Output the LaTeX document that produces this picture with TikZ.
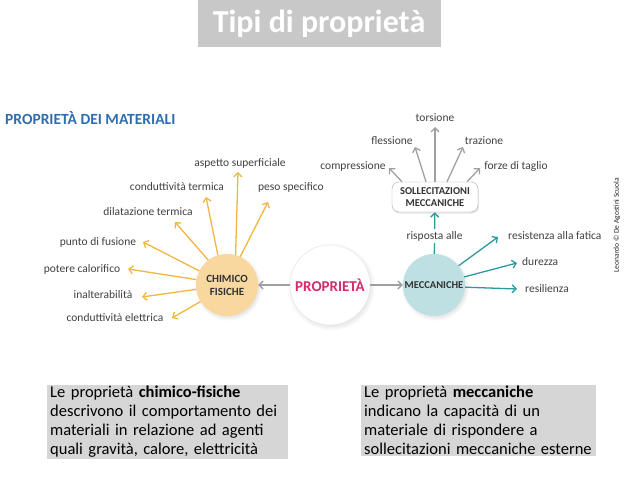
\documentclass[tikz,border=0pt]{standalone}
\usepackage{fontspec}
\setmainfont{Carlito}
\usepackage{xcolor}
\usetikzlibrary{arrows.meta, shadows, calc}

\definecolor{titlegray}{HTML}{C8C8C8}
\definecolor{boxgray}{HTML}{D6D6D6}
\definecolor{headblue}{HTML}{2F6EAE}
\definecolor{chimfill}{HTML}{F9D8A0}
\definecolor{chimline}{HTML}{F0B642}
\definecolor{meccfill}{HTML}{BEE0E2}
\definecolor{meccline}{HTML}{2A9A9E}
\definecolor{propred}{HTML}{D42A6E}
\definecolor{arrgray}{HTML}{A0A0A0}

\begin{document}
\begin{tikzpicture}[x=1pt, y=-1pt,
  lab/.style={font=\fontsize{11.5}{13}\selectfont, text=black!75, inner sep=1pt},
  hub/.style={circle, minimum size=62pt, inner sep=0pt, align=center,
              font=\fontsize{10.5}{12}\selectfont\bfseries, text=black!80,
              circular drop shadow={opacity=0.2, shadow xshift=1pt, shadow yshift=-1.5pt}},
  oarr/.style={-{Straight Barb[length=4pt, width=8pt]}, chimline, line width=1.3pt},
  tarr/.style={-{Straight Barb[length=4pt, width=8pt]}, meccline, line width=1.3pt},
  garr/.style={-{Straight Barb[length=4pt, width=8pt]}, arrgray, line width=1.3pt},
  note/.style={fill=boxgray, anchor=north west, align=left, inner xsep=3pt, inner ysep=1pt,
               font=\fontsize{16.5}{19}\selectfont, text=black},
]
\useasboundingbox (0,0) rectangle (638,479);

% ---- Title -----------------------------------------------------------------
\node[fill=titlegray, minimum width=243pt, minimum height=47pt, text=white,
      font=\fontsize{32}{34}\selectfont\bfseries] (title) at (319, 23.5) {Tipi di proprietà};

% ---- Heading ---------------------------------------------------------------
\node[anchor=west, text=headblue, font=\fontsize{15.5}{17}\selectfont\bfseries, inner sep=0pt]
  (head) at (5, 118) {PROPRIETÀ DEI MATERIALI};

% ---- Hubs ------------------------------------------------------------------
\node[hub, fill=white, draw=black!10, minimum size=80pt, text=propred,
      font=\fontsize{15}{17}\selectfont\bfseries] (prop) at (330, 285) {PROPRIETÀ};
\node[hub, fill=chimfill, font=\fontsize{11}{13}\selectfont\bfseries] (chim) at (227, 285) {CHIMICO\\FISICHE};
\node[hub, fill=meccfill] (mecc) at (434, 285) {MECCANICHE};
\node[draw=black!35, fill=white, rounded corners=7pt, minimum width=86pt, minimum height=30pt,
      align=center, font=\fontsize{10.5}{12}\selectfont\bfseries, text=black!80, inner sep=1pt,
      drop shadow={opacity=0.2, shadow xshift=1pt, shadow yshift=-1.5pt}]
  (soll) at (435, 197) {SOLLECITAZIONI\\MECCANICHE};

\draw[garr] (prop) -- (chim);
\draw[garr] (prop) -- (mecc);

% ---- Chimico-fisiche labels ------------------------------------------------
\node[lab] (asp) at (240, 163) {aspetto superficiale};
\node[lab] (cte) at (177, 187) {conduttività termica};
\node[lab] (pes) at (291, 187) {peso specifico};
\node[lab] (dil) at (148, 212) {dilatazione termica};
\node[lab] (fus) at (98, 242) {punto di fusione};
\node[lab] (cal) at (82, 269) {potere calorifico};
\node[lab] (ina) at (103, 295) {inalterabilità};
\node[lab] (cel) at (115, 318) {conduttività elettrica};

\draw[oarr] (chim.74) -- ($(asp)+(-2,9)$);
\draw[oarr] (chim.107) -- ($(cte)+(29,10)$);
\draw[oarr] (chim.65) -- ($(pes)+(-23,15)$);
\draw[oarr] (chim.127) -- ($(dil)+(27,10)$);
\draw[oarr] (chim.153) -- ($(fus)+(45,0)$);
\draw[oarr] (chim.170) -- ($(cal)+(46,0)$);
\draw[oarr] (chim.188) -- ($(ina)+(39,2)$);
\draw[oarr] (chim.212) -- ($(cel)+(57,0)$);

% ---- Sollecitazioni labels -------------------------------------------------
\node[lab] (tor) at (435, 118) {torsione};
\node[lab] (fle) at (392, 141) {flessione};
\node[lab] (tra) at (484, 141) {trazione};
\node[lab] (com) at (353, 166) {compressione};
\node[lab] (tag) at (516, 166) {forze di taglio};

\draw[garr] (soll.north) -- ($(tor)+(0,9)$);
\draw[garr] ($(soll.north)+(-9,0)$) -- ($(fle)+(23,6)$);
\draw[garr] ($(soll.north)+(12,0)$) -- ($(tra)+(-21,6)$);
\draw[garr] ($(soll.north)+(-33,0)$) -- ($(com)+(36,2)$);
\draw[garr] ($(soll.north)+(32,0)$) -- ($(tag)+(-36,2)$);

% ---- Meccaniche labels -----------------------------------------------------
\draw[tarr] (mecc) -- node[lab, fill=white, inner sep=2pt, pos=0.42] (risp) {risposta alle} (soll);

\node[lab, anchor=west] (fat) at (507, 236) {resistenza alla fatica};
\node[lab, anchor=west] (dur) at (521, 262) {durezza};
\node[lab, anchor=west] (res) at (524, 289) {resilienza};

\draw[tarr] (mecc.38) -- ($(fat.west)+(-9,1)$);
\draw[tarr] (mecc.15) -- ($(dur.west)+(-4,1)$);
\draw[tarr] (mecc.-4) -- ($(res.west)+(-7,0)$);

% ---- Credit ----------------------------------------------------------------
\node[rotate=90, font=\fontsize{7.5}{9}\selectfont, text=black!85, inner sep=0pt]
  (cred) at (617, 225) {Leonardo © De Agostini Scuola};

% ---- Notes -----------------------------------------------------------------
\node[note, text width=235pt] (lnote) at (47, 385)
  {Le proprietà \textbf{chimico-fisiche}\\descrivono il comportamento dei\\materiali in relazione ad agenti\\quali gravità, calore, elettricità};
\node[note, text width=229pt] (rnote) at (361, 385)
  {Le proprietà \textbf{meccaniche}\\indicano la capacità di un\\materiale di rispondere a\\sollecitazioni meccaniche esterne};

\end{tikzpicture}
\end{document}
